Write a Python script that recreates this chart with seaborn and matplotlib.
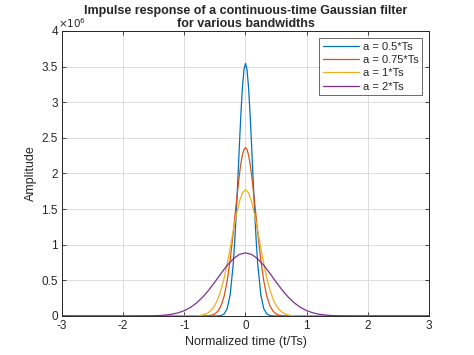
import matplotlib
matplotlib.use("Agg")
import matplotlib.pyplot as plt
import seaborn as sns

# values (amplitude in units of 1e6)
t_05 = [-3, -0.5, -0.45, -0.4, -0.35, -0.3, -0.25, -0.2, -0.175, -0.15, -0.125, -0.1,
        -0.075, -0.05, -0.025, 0, 0.025, 0.05, 0.075, 0.1, 0.125, 0.15, 0.175, 0.2,
        0.25, 0.3, 0.35, 0.4, 0.45, 0.5, 3]
h_05 = [0, 0, 0.0012, 0.0064, 0.0281, 0.101, 0.301, 0.731, 1.058, 1.46, 1.913, 2.39,
        2.839, 3.21, 3.459, 3.545, 3.459, 3.21, 2.839, 2.39, 1.913, 1.46, 1.058, 0.731,
        0.301, 0.101, 0.0281, 0.0064, 0.0012, 0, 0]

t_075 = [-3, -0.7, -0.65, -0.6, -0.55, -0.5, -0.45, -0.4, -0.35, -0.3, -0.25, -0.2,
         -0.15, -0.1, -0.075, -0.05, -0.025, 0, 0.025, 0.05, 0.075, 0.1, 0.15, 0.2,
         0.25, 0.3, 0.35, 0.4, 0.45, 0.5, 0.55, 0.6, 0.65, 0.7, 3]
h_075 = [0, 0, 0.0014, 0.0043, 0.0117, 0.0294, 0.0676, 0.1425, 0.275, 0.487, 0.789,
         1.17, 1.59, 1.98, 2.141, 2.26, 2.337, 2.363, 2.337, 2.26, 2.141, 1.98, 1.59,
         1.17, 0.789, 0.487, 0.275, 0.1425, 0.0676, 0.0294, 0.0117, 0.0043, 0.0014, 0, 0]

t_1 = [-3, -0.9, -0.85, -0.8, -0.75, -0.7, -0.65, -0.6, -0.55, -0.5, -0.45, -0.4,
       -0.35, -0.3, -0.25, -0.2, -0.15, -0.1, -0.05, 0, 0.05, 0.1, 0.15, 0.2, 0.25,
       0.3, 0.35, 0.4, 0.45, 0.5, 0.55, 0.6, 0.65, 0.7, 0.75, 0.8, 0.85, 0.9, 3]
h_1 = [0, 0, 0.0014, 0.0032, 0.0069, 0.0141, 0.0274, 0.0507, 0.0895, 0.150, 0.240,
       0.365, 0.529, 0.729, 0.956, 1.194, 1.419, 1.605, 1.729, 1.772, 1.729, 1.605,
       1.419, 1.194, 0.956, 0.729, 0.529, 0.365, 0.240, 0.150, 0.0895, 0.0507,
       0.0274, 0.0141, 0.0069, 0.0032, 0.0014, 0, 0]

t_2 = [-3, -1.8, -1.7, -1.6, -1.5, -1.4, -1.3, -1.2, -1.1, -1.0, -0.9, -0.8, -0.7,
       -0.6, -0.5, -0.4, -0.3, -0.2, -0.1, 0, 0.1, 0.2, 0.3, 0.4, 0.5, 0.6, 0.7,
       0.8, 0.9, 1.0, 1.1, 1.2, 1.3, 1.4, 1.5, 1.6, 1.7, 1.8, 3]
h_2 = [0, 0, 0.0007, 0.0016, 0.0034, 0.0070, 0.0137, 0.0253, 0.0447, 0.0751, 0.120,
       0.183, 0.264, 0.364, 0.478, 0.597, 0.710, 0.803, 0.864, 0.886, 0.864, 0.803,
       0.710, 0.597, 0.478, 0.364, 0.264, 0.183, 0.120, 0.0751, 0.0447, 0.0253,
       0.0137, 0.0070, 0.0034, 0.0016, 0.0007, 0, 0]

labels = ["a = 0.5*Ts", "a = 0.75*Ts", "a = 1*Ts", "a = 2*Ts"]
colors = ["#0072BD", "#D95319", "#EDB120", "#7E2F8E"]
x_ticks = [-3, -2, -1, 0, 1, 2, 3]
y_ticks = [0, 0.5, 1, 1.5, 2, 2.5, 3, 3.5, 4]
y_ticklabels = ["0", "0.5", "1", "1.5", "2", "2.5", "3", "3.5", "4"]

sns.set_theme(style="ticks")
plt.rcParams["font.family"] = ["Liberation Sans", "DejaVu Sans"]

fig = plt.figure(figsize=(4.74, 3.55), dpi=100)
ax = fig.add_axes([0.1308, 0.1099, 0.7742, 0.8028])

series = [(t_05, h_05), (t_075, h_075), (t_1, h_1), (t_2, h_2)]
for (t, h), lab, c in zip(series, labels, colors):
    sns.lineplot(x=t, y=h, ax=ax, color=c, linewidth=0.9, label=lab, sort=False)

ax.set_xlim(-3, 3)
ax.set_ylim(0, 4)
ax.set_xticks(x_ticks)
ax.set_xticklabels([str(v) for v in x_ticks])
ax.set_yticks(y_ticks)
ax.set_yticklabels(y_ticklabels)
ax.grid(True, color="#DCDCDC", linewidth=0.7)
ax.tick_params(direction="in", top=True, right=True, labelsize=8.5, length=3,
               width=0.6, colors="#262626", pad=3)
for s in ax.spines.values():
    s.set_color("#262626")
    s.set_linewidth(0.7)

ax.set_xlabel("Normalized time (t/Ts)", fontsize=9, color="#262626", labelpad=3)
ax.set_ylabel("Amplitude", fontsize=9, color="#262626", labelpad=3)
ax.set_title("Impulse response of a continuous-time Gaussian filter\nfor various bandwidths",
             fontsize=9, fontweight="bold", linespacing=1.05, pad=3)
ax.text(-0.012, 1.005, r"$\times10^{6}$", transform=ax.transAxes, fontsize=7.5,
        ha="left", va="bottom", color="#262626")

leg = ax.legend(loc="upper right", fontsize=8, frameon=True, fancybox=False,
                handlelength=3.3, borderaxespad=0.6, labelspacing=0.3,
                borderpad=0.35, handletextpad=0.3)
leg.get_frame().set_edgecolor("#262626")
leg.get_frame().set_linewidth(0.6)

fig.savefig("out.png", dpi=100)
